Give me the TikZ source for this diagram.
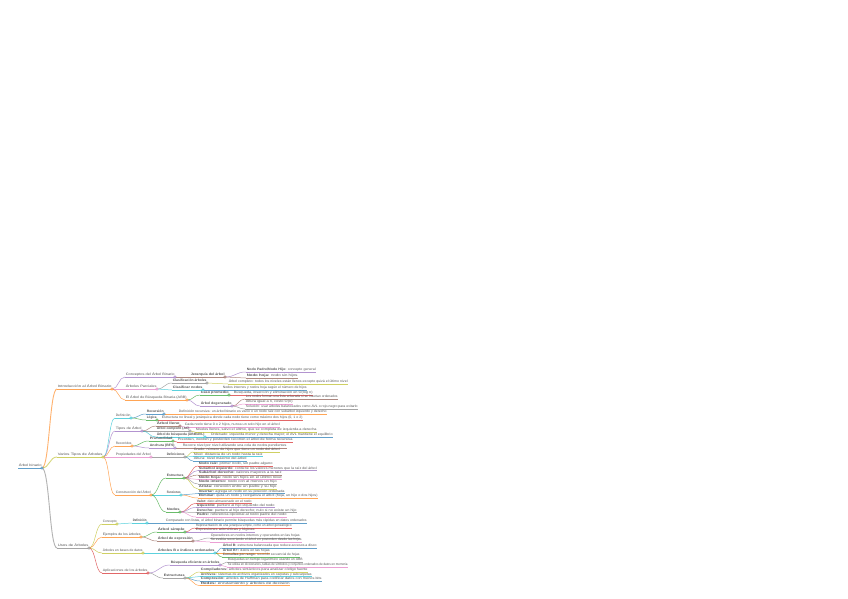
\documentclass[tikz,border=0pt]{standalone}
\usepackage{fontspec}
\usepackage{graphicx}
\setmainfont{Liberation Sans}
\usetikzlibrary{calc}
\definecolor{mblue}{HTML}{1F77B4}
\definecolor{morange}{HTML}{FF7F0E}
\definecolor{mgreen}{HTML}{2CA02C}
\definecolor{mred}{HTML}{D62728}
\definecolor{mpurple}{HTML}{9467BD}
\definecolor{mbrown}{HTML}{8C564B}
\definecolor{mpink}{HTML}{E377C2}
\definecolor{mgray}{HTML}{7F7F7F}
\definecolor{molive}{HTML}{BCBD22}
\definecolor{mcyan}{HTML}{17BECF}
\definecolor{txtc}{HTML}{555555}
\newsavebox\mmbox
\newcommand\mmfont{\fontsize{3.3}{3.6}\selectfont}
\newcommand\fitw[2]{\sbox\mmbox{#2}\pgfmathsetmacro\mmsx{#1/\the\wd\mmbox}\scalebox{\mmsx}[1]{\usebox\mmbox}}
% #1 name, #2 x1, #3 x2, #4 y, #5 colour, #6 font switch, #7 text
\newcommand\mm[7]{%
  \expandafter\def\csname mmcol@#1\endcsname{#5}%
  \coordinate (#1-s) at (#2,#4);
  \coordinate (#1-e) at (#3,#4);
  \pgfmathsetmacro\mmw{#3-#2-1.2}%
  \node[txt, anchor=base west] (#1) at (#2+0.6,#4-1.1) {\fitw{\mmw}{\mmfont#6\relax #7}};
  \draw[ul, draw=#5] (#1-s) -- (#1-e);
}
\newcommand\mml[3][lk]{%
  \edef\mmtmp{\csname mmcol@#3\endcsname}%
  \edef\mmfrom{#2-e}\edef\mmto{#3-s}%
  \draw[#1, draw=\mmtmp] let \p1=(\mmfrom), \p2=(\mmto) in
    (\p1) .. controls ({(\x1+\x2)/2},\y1) and ({(\x1+\x2)/2},\y2) .. (\p2);
}
\newcommand\mmc[1]{%
  \edef\mmtmp{\csname mmcol@#1\endcsname}%
  \filldraw[fill=white, draw=\mmtmp, draw opacity=0.8, line width=0.45pt] (#1-e) circle (1.2pt);
}
\begin{document}
\begin{tikzpicture}[x=1pt,y=-1pt,
  txt/.style={inner sep=0pt, text=txtc},
  ul/.style={line width=0.5pt, draw opacity=0.7},
  lk/.style={line width=0.5pt, draw opacity=0.7},
  lkone/.style={line width=0.9pt, draw opacity=0.6}]
\fill[white] (0,0) rectangle (848,599);
\useasboundingbox (0,0) rectangle (848,599);

% root and first level
\mm{R}{18}{42}{468}{mblue}{}{Árbol binario}
\mm{A}{57}{112}{389}{morange}{}{Introducción al Árbol Binario}
\mm{B}{57}{103}{457}{molive}{}{Varios Tipos de Árboles}
\mm{C}{57}{89}{548}{mgray}{}{Usos de Árboles}

% branch A
\mm{A1}{125}{175}{377}{mpurple}{}{Conceptos del Árbol Binario}
\mm{A2}{125}{157}{389}{mpink}{}{Árboles Parciales}
\mm{A3}{125}{187}{400}{morange}{}{El Árbol de Búsqueda Binaria (ABB)}
\mm{A1a}{190}{225}{377}{mbrown}{\bfseries}{Jerarquía del árbol}
\mm{A1a1}{246}{316}{372}{mpurple}{}{\textbf{Nodo Padre/Nodo Hijo:} concepto general}
\mm{A1a2}{246}{298}{378}{mbrown}{}{\textbf{Nodo hoja:} nodo sin hijos}
\mm{A2a}{172}{207}{383}{mgray}{\bfseries}{Clasificación árboles}
\mm{A2a1}{228}{348}{384}{molive}{}{Árbol completo: todos los niveles están llenos excepto quizá el último nivel}
\mm{A2b}{172}{203}{390}{mcyan}{\bfseries}{Clasificar nodos}
\mm{A2b1}{222}{307}{390}{mblue}{}{Nodos internos y nodos hoja según el número de hijos}
\mm{A3a}{200}{229}{395}{mgreen}{\bfseries}{Caso promedio}
\mm{A3a1}{233}{313}{395}{mred}{}{Búsqueda, inserción y eliminación en O(log n)}
\mm{A3b}{200}{232}{406}{mpurple}{\bfseries}{Árbol degenerado}
\mm{A3b1}{245}{338}{399}{mbrown}{}{Los nodos forman una lista enlazada si se insertan ordenados}
\mm{A3b2}{245}{293}{404}{mpink}{}{Altura igual a n, costo O(n)}
\mm{A3b3}{245}{358}{409}{mgray}{}{Solución: usar árboles balanceados como AVL o rojo-negro para evitarlo}

% branch B
\mm{B1}{115}{131}{418}{mcyan}{}{Definición}
\mm{B2}{115}{142}{431}{mpurple}{}{Tipos de Árbol}
\mm{B3}{115}{132}{446}{morange}{}{Recorridos}
\mm{B4}{115}{151}{457}{mpink}{}{Propiedades del Árbol}
\mm{B5}{115}{151}{495}{morange}{}{Construcción del Árbol}
\mm{B1a}{146}{164}{414}{mblue}{\bfseries}{Recursión}
\mm{B1a1}{178}{327}{414}{morange}{}{Definición recursiva: un árbol binario es vacío o un nodo raíz con subárbol izquierdo y derecho}
\mm{B1b}{146}{157}{420}{mgreen}{\bfseries}{Lógica}
\mm{B1b1}{161}{303}{420}{mred}{}{Estructura no lineal y jerárquica donde cada nodo tiene como máximo dos hijos (0, 1 o 2)}
\mm{B2a}{156}{180}{426}{mbrown}{\bfseries}{Árbol lleno}
\mm{B2a1}{184}{280}{427}{mpink}{}{Cada nodo tiene 0 o 2 hijos, nunca un solo hijo en el árbol}
\mm{B2b}{156}{190}{431}{mgray}{\bfseries}{Árbol completo (AC)}
\mm{B2b1}{195}{317}{432}{molive}{}{Niveles llenos, salvo el último, que se completa de izquierda a derecha}
\mm{B2c}{156}{205}{437}{mcyan}{\bfseries}{Árbol de búsqueda (ABB/AVL)}
\mm{B2c1}{210}{333}{437}{mblue}{}{Ordenado: izquierda menor y derecha mayor; el AVL mantiene el equilibrio}
\mm{B3a}{149}{173}{441}{mgreen}{\bfseries}{Profundidad}
\mm{B3a1}{177}{293}{442}{mred}{}{Preorden, inorden y postorden recorren el árbol de forma recursiva}
\mm{B3b}{149}{175}{448}{mpurple}{\bfseries}{Anchura (BFS)}
\mm{B3b1}{182}{287}{448}{mbrown}{}{Recorre nivel por nivel utilizando una cola de nodos pendientes}
\mm{B4a}{166}{185}{457}{mgray}{\bfseries}{Definiciones}
\mm{B4a1}{193}{280}{452}{molive}{}{Grado: número de hijos que tiene un nodo del árbol}
\mm{B4a2}{193}{263}{456.5}{mcyan}{}{Nivel: distancia de un nodo hasta la raíz}
\mm{B4a3}{193}{247}{461}{mblue}{}{Altura: nivel máximo del árbol}
\mm{B5a}{166}{184}{478}{mgreen}{\bfseries}{Estructura}
\mm{B5a1}{198}{273}{466}{mred}{}{\textbf{Nodo raíz:} primer nodo, sin padre alguno}
\mm{B5a2}{198}{317}{470.5}{mpurple}{}{\textbf{Subárbol izquierdo:} contiene los valores menores que la raíz del árbol}
\mm{B5a3}{198}{282}{475}{mbrown}{}{\textbf{Subárbol derecho:} valores mayores a la raíz}
\mm{B5a4}{198}{282}{479.5}{mpink}{}{\textbf{Nodo hoja:} nodo sin hijos en el último nivel}
\mm{B5a5}{198}{277}{484}{mgray}{}{\textbf{Nodo interno:} nodo con al menos un hijo}
\mm{B5a6}{198}{277}{489}{molive}{}{\textbf{Arista:} conexión entre un padre y su hijo}
\mm{B5b}{166}{181}{495}{mcyan}{\bfseries}{Funciones}
\mm{B5b1}{198}{285}{493.5}{mblue}{}{\textbf{Insertar:} agrega un nodo en su posición ordenada}
\mm{B5b2}{198}{318}{498}{morange}{}{\textbf{Eliminar:} quita un nodo y reorganiza el árbol (hoja, un hijo o dos hijos)}
\mm{B5c}{166}{180}{512}{mgreen}{\bfseries}{Nodos}
\mm{B5c1}{196}{252}{503.5}{mred}{}{\textbf{Valor:} dato almacenado en el nodo}
\mm{B5c2}{196}{275}{507.5}{mpurple}{}{\textbf{Izquierdo:} puntero al hijo izquierdo del nodo}
\mm{B5c3}{196}{297}{512.5}{mgray}{}{\textbf{Derecho:} puntero al hijo derecho; nulo si no existe un hijo}
\mm{B5c4}{196}{287}{517}{mpink}{}{\textbf{Padre:} referencia opcional al nodo padre del nodo}

% branch C
\mm{C1}{102}{117}{524}{molive}{}{Concepto}
\mm{C2}{102}{141}{537}{morange}{}{Ejemplos de los árboles}
\mm{C3}{102}{143}{553}{molive}{}{Árboles en bases de datos}
\mm{C4}{102}{148}{573}{mred}{}{Aplicaciones de los árboles}
\mm{C1a}{132}{147}{523}{mcyan}{\bfseries}{Definición}
\mm{C1a1}{165}{307}{523}{mblue}{}{Comparado con listas, el árbol binario permite búsquedas más rápidas en datos ordenados}
\mm{C2a}{157}{185}{532}{mgreen}{\bfseries}{Árbol simple}
\mm{C2a1}{195}{292}{528}{mred}{}{Representación de una jerarquía simple, como un árbol genealógico}
\mm{C2a2}{195}{255}{532}{mpurple}{}{Expresiones aritméticas y lógicas}
\mm{C2b}{157}{193}{541}{mbrown}{\bfseries}{Árbol de expresión}
\mm{C2b1}{210}{300}{538}{mgray}{}{Operadores en nodos internos y operandos en las hojas}
\mm{C2b2}{210}{302}{542}{mpink}{}{Se evalúa recorriendo el árbol en postorden desde las hojas}
\mm{C3a}{157}{215}{553}{mcyan}{\bfseries}{Árboles B e índices ordenados}
\mm{C3a1}{222}{317}{548}{mblue}{}{\textbf{Árbol B:} estructura balanceada que reduce accesos a disco}
\mm{C3a2}{222}{270}{553}{morange}{}{\textbf{Árbol B+:} datos en las hojas}
\mm{C3a3}{222}{300}{557}{mgreen}{}{\textbf{Consultas por rango:} recorrido secuencial de hojas}
\mm{C4a}{170}{220}{565}{mpurple}{\bfseries}{Búsqueda eficiente en árboles}
\mm{C4a1}{227}{303}{562}{mgray}{}{Búsquedas en tiempo logarítmico usando un ABB}
\mm{C4a2}{227}{348}{567}{mpink}{}{Se utiliza en diccionarios, tablas de símbolos y conjuntos ordenados de datos en memoria}
\mm{C4b}{163}{185}{578}{mgray}{\bfseries}{Estructuras}
\mm{C4b1}{200}{308}{572}{molive}{}{\textbf{Compiladores:} árboles sintácticos para analizar código fuente}
\mm{C4b2}{200}{312}{576.5}{mcyan}{}{\textbf{Archivos:} sistemas de archivos organizados en carpetas y subcarpetas}
\mm{C4b3}{200}{322}{581}{mblue}{}{\textbf{Compresión:} árboles de Huffman para codificar datos con menos bits}
\mm{C4b4}{200}{290}{585.5}{morange}{}{\textbf{Redes:} enrutamiento y árboles de decisión}

% connectors
\mml[lkone]{R}{A}
\mml[lkone]{R}{B}
\mml[lkone]{R}{C}
\foreach \mmp/\mmq in {A/A1,A/A2,A/A3,A1/A1a,A1a/A1a1,A1a/A1a2,A2/A2a,A2a/A2a1,A2/A2b,A2b/A2b1,
  A3/A3a,A3a/A3a1,A3/A3b,A3b/A3b1,A3b/A3b2,A3b/A3b3,
  B/B1,B/B2,B/B3,B/B4,B/B5,B1/B1a,B1a/B1a1,B1/B1b,B1b/B1b1,
  B2/B2a,B2a/B2a1,B2/B2b,B2b/B2b1,B2/B2c,B2c/B2c1,
  B3/B3a,B3a/B3a1,B3/B3b,B3b/B3b1,B4/B4a,B4a/B4a1,B4a/B4a2,B4a/B4a3,
  B5/B5a,B5a/B5a1,B5a/B5a2,B5a/B5a3,B5a/B5a4,B5a/B5a5,B5a/B5a6,
  B5/B5b,B5b/B5b1,B5b/B5b2,B5/B5c,B5c/B5c1,B5c/B5c2,B5c/B5c3,B5c/B5c4,
  C/C1,C/C2,C/C3,C/C4,C1/C1a,C1a/C1a1,C2/C2a,C2a/C2a1,C2a/C2a2,C2/C2b,C2b/C2b1,C2b/C2b2,
  C3/C3a,C3a/C3a1,C3a/C3a2,C3a/C3a3,C4/C4a,C4a/C4a1,C4a/C4a2,C4/C4b,C4b/C4b1,C4b/C4b2,C4b/C4b3,C4b/C4b4}
  {\mml{\mmp}{\mmq}}

% circles on branching nodes
\foreach \mmn in {R,A,B,C,A1,A2,A3,A1a,A2a,A2b,A3a,A3b,B1,B2,B3,B4,B5,B1a,B1b,B2a,B2b,B2c,
  B3a,B3b,B4a,B5a,B5b,B5c,C1,C2,C3,C4,C1a,C2a,C2b,C3a,C4a,C4b}
  {\mmc{\mmn}}
\end{tikzpicture}
\end{document}
